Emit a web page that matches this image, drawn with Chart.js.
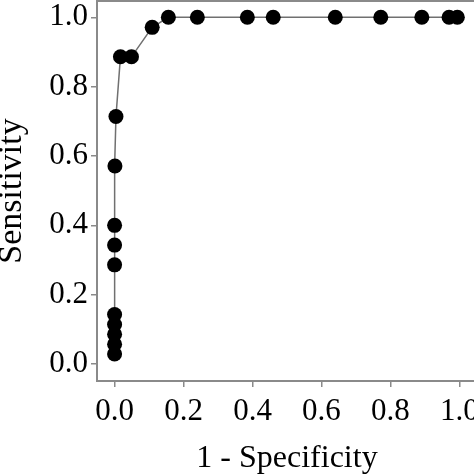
<!DOCTYPE html>
<html>
<head>
<meta charset="utf-8">
<script src="https://cdn.jsdelivr.net/npm/chart.js@4"></script>
<style>
  body { margin: 0; overflow: hidden; background: #fff; }
  #wrap { width: 480px; height: 474px; }
</style>
</head>
<body>
<div id="wrap"><canvas id="roc"></canvas></div>
<script>
// 1 - specificity (x) and sensitivity (y)
const fpr = [0, 0, 0, 0, 0, 0, 0, 0, 0.001, 0.004, 0.017, 0.049, 0.109,
             0.156, 0.24, 0.385, 0.46, 0.64, 0.772, 0.891, 0.970, 0.994];
const sensitivity = [0.029, 0.057, 0.086, 0.114, 0.143, 0.286, 0.343, 0.4, 0.571, 0.714,
                     0.886, 0.886, 0.971, 1, 1, 1, 1, 1, 1, 1, 1, 1];
const tickValues = [0, 0.2, 0.4, 0.6, 0.8, 1.0];

const points = fpr.map((x, i) => ({ x: x, y: sensitivity[i] }));
const serif = "'Liberation Serif', 'Times New Roman', serif";
const grey = '#8a8a8a';

const boxBorder = {
    id: 'boxBorder',
    afterDraw(chart) {
        const a = chart.chartArea, c = chart.ctx;
        c.save();
        c.strokeStyle = grey;
        c.lineWidth = 2;
        c.strokeRect(a.left, a.top, a.right - a.left, a.bottom - a.top);
        c.restore();
    }
};

function axis(title, titleFont, tickPad, min, max, fitFn) {
    return {
        type: 'linear',
        min: min,
        max: max,
        afterBuildTicks: s => { s.ticks = tickValues.map(v => ({ value: v })); },
        afterFit: fitFn,
        ticks: { font: { family: serif, size: 31 }, color: '#000', padding: tickPad, callback: v => v.toFixed(1) },
        grid: { drawOnChartArea: false, drawTicks: true, tickLength: 6, color: grey, lineWidth: 1.5 },
        border: { display: true, color: grey, width: 2 },
        title: { display: true, text: title, font: titleFont, color: '#000', padding: 0 }
    };
}

new Chart(document.getElementById('roc'), {
    type: 'scatter',
    data: {
        datasets: [{
            data: points,
            showLine: true,
            borderColor: '#707070',
            borderWidth: 1.5,
            pointRadius: 7.5,
            pointHoverRadius: 7.5,
            pointBackgroundColor: '#000',
            pointBorderColor: '#000',
            pointBorderWidth: 0
        }]
    },
    options: {
        responsive: true,
        maintainAspectRatio: false,
        animation: false,
        clip: false,
        layout: { autoPadding: false, padding: { top: 1, right: 3, left: 0, bottom: 0 } },
        plugins: { legend: { display: false }, tooltip: { enabled: false } },
        scales: {
            x: axis('1 - Specificity', { family: serif, size: 32, lineHeight: 0.94 }, 6, -0.051, 1.051,
                s => { s.height = 93; s.paddingLeft = 0; s.paddingRight = 0; }),
            y: axis('Sensitivity', { family: serif, size: 34, lineHeight: 0.7 }, 3, -0.049, 1.047,
                s => { s.width = 97; s.paddingTop = 0; s.paddingBottom = 0; })
        }
    },
    plugins: [boxBorder]
});
</script>
</body>
</html>
